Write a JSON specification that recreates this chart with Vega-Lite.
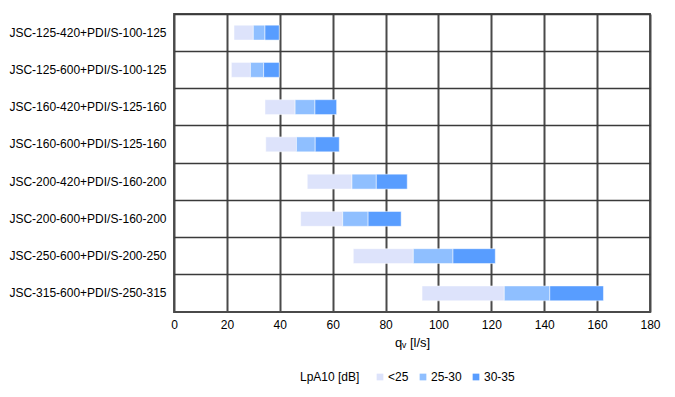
{
  "$schema": "https://vega.github.io/schema/vega-lite/v6.json",
  "width": 476,
  "height": 298,
  "autosize": {"type": "none"},
  "padding": {"left": 174, "top": 14, "right": 25, "bottom": 85},
  "background": "white",
  "config": {
    "font": "Liberation Sans",
    "view": {"stroke": "#4a4a4a", "strokeWidth": 1.8}
  },
  "data": {"values": [
    {"name": "JSC-125-420+PDI/S-100-125", "cat": "<25", "start": 22.7, "end": 30.0},
    {"name": "JSC-125-420+PDI/S-100-125", "cat": "25-30", "start": 30.0, "end": 34.4},
    {"name": "JSC-125-420+PDI/S-100-125", "cat": "30-35", "start": 34.4, "end": 39.8},
    {"name": "JSC-125-600+PDI/S-100-125", "cat": "<25", "start": 21.7, "end": 28.9},
    {"name": "JSC-125-600+PDI/S-100-125", "cat": "25-30", "start": 28.9, "end": 33.9},
    {"name": "JSC-125-600+PDI/S-100-125", "cat": "30-35", "start": 33.9, "end": 39.8},
    {"name": "JSC-160-420+PDI/S-125-160", "cat": "<25", "start": 34.4, "end": 45.8},
    {"name": "JSC-160-420+PDI/S-125-160", "cat": "25-30", "start": 45.8, "end": 53.3},
    {"name": "JSC-160-420+PDI/S-125-160", "cat": "30-35", "start": 53.3, "end": 61.5},
    {"name": "JSC-160-600+PDI/S-125-160", "cat": "<25", "start": 34.7, "end": 46.3},
    {"name": "JSC-160-600+PDI/S-125-160", "cat": "25-30", "start": 46.3, "end": 53.4},
    {"name": "JSC-160-600+PDI/S-125-160", "cat": "30-35", "start": 53.4, "end": 62.5},
    {"name": "JSC-200-420+PDI/S-160-200", "cat": "<25", "start": 50.4, "end": 67.3},
    {"name": "JSC-200-420+PDI/S-160-200", "cat": "25-30", "start": 67.3, "end": 76.5},
    {"name": "JSC-200-420+PDI/S-160-200", "cat": "30-35", "start": 76.5, "end": 88.2},
    {"name": "JSC-200-600+PDI/S-160-200", "cat": "<25", "start": 47.9, "end": 63.8},
    {"name": "JSC-200-600+PDI/S-160-200", "cat": "25-30", "start": 63.8, "end": 73.4},
    {"name": "JSC-200-600+PDI/S-160-200", "cat": "30-35", "start": 73.4, "end": 85.9},
    {"name": "JSC-250-600+PDI/S-200-250", "cat": "<25", "start": 67.8, "end": 90.5},
    {"name": "JSC-250-600+PDI/S-200-250", "cat": "25-30", "start": 90.5, "end": 105.5},
    {"name": "JSC-250-600+PDI/S-200-250", "cat": "30-35", "start": 105.5, "end": 121.5},
    {"name": "JSC-315-600+PDI/S-250-315", "cat": "<25", "start": 93.8, "end": 124.9},
    {"name": "JSC-315-600+PDI/S-250-315", "cat": "25-30", "start": 124.9, "end": 142.1},
    {"name": "JSC-315-600+PDI/S-250-315", "cat": "30-35", "start": 142.1, "end": 162.4}
  ]},
  "mark": {"type": "bar", "height": {"band": 0.4}, "stroke": "#ffffff", "strokeWidth": 0.5},
  "encoding": {
    "y": {
      "field": "name", "type": "nominal", "sort": null,
      "scale": {"paddingInner": 0, "paddingOuter": 0},
      "axis": {"title": null, "grid": true, "gridColor": "#3a3a3a", "gridWidth": 1.5, "gridOpacity": 1, "bandPosition": 0, "domain": false, "ticks": false, "labelPadding": 8, "labelFontSize": 12, "labelColor": "#000"}
    },
    "x": {
      "field": "start", "type": "quantitative",
      "scale": {"domain": [0, 180], "nice": false},
      "axis": {"title": "qᵥ [l/s]", "values": [0, 20, 40, 60, 80, 100, 120, 140, 160, 180], "grid": true, "gridColor": "#4a4a4a", "gridWidth": 2, "gridOpacity": 1, "domain": false, "ticks": false, "labelFlush": false, "labelPadding": 7, "labelFontSize": 12, "labelColor": "#000", "titlePadding": 6, "titleFontSize": 13, "titleFontWeight": "normal", "titleColor": "#000"}
    },
    "x2": {"field": "end"},
    "color": {
      "field": "cat", "type": "nominal",
      "scale": {"domain": ["<25", "25-30", "30-35"], "range": ["#dde3fb", "#8fbfff", "#589dff"]},
      "legend": {
        "title": "LpA10 [dB]", "orient": "none", "direction": "horizontal",
        "legendX": 126, "legendY": 357,
        "titleOrient": "left", "titleFontWeight": "normal", "titleFontSize": 12, "titleColor": "#000", "titlePadding": 14,
        "labelFontSize": 12, "labelColor": "#000", "symbolType": "square", "symbolSize": 45, "symbolStrokeWidth": 0,
        "columnPadding": 8, "labelOffset": 2
      }
    },
    "order": {"field": "start", "type": "quantitative"}
  }
}
